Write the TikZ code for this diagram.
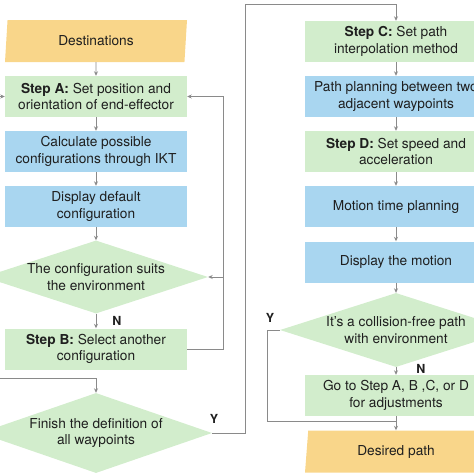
\documentclass[tikz,border=0pt]{standalone}
\usepackage{fontspec}
\setmainfont{TeX Gyre Heros}
\usetikzlibrary{shapes.geometric,arrows.meta}
\definecolor{stepgreen}{HTML}{D2EDCC}
\definecolor{procblue}{HTML}{A9D6F0}
\definecolor{ioyellow}{HTML}{F9D68A}
\definecolor{linegray}{HTML}{8A8A8A}
\begin{document}
\begin{tikzpicture}[x=1pt, y=-1pt,
    every node/.style={font=\fontsize{13.7}{16.7}\selectfont, text=black!88, align=center},
    stepbox/.style={rectangle, fill=stepgreen, minimum width=182, minimum height=41, inner sep=0},
    procbox/.style={stepbox, fill=procblue},
    iobox/.style={trapezium, trapezium left angle=76, trapezium right angle=104, trapezium stretches body,
        fill=ioyellow, minimum width=182, minimum height=42, inner sep=0},
    decide/.style={diamond, aspect=3.2, fill=stepgreen, inner xsep=-6pt, inner ysep=-2pt,
        minimum width=228, minimum height=76},
    flow/.style={draw=linegray, line width=0.8pt, -{Stealth[length=4.5pt,width=4pt]}},
    link/.style={draw=linegray, line width=0.8pt},
    yn/.style={font=\bfseries\fontsize{12.5}{14}\selectfont}]
    \useasboundingbox (0,0) rectangle (474,474);
    \clip (0,0) rectangle (474,474);

    % left column
    \node[iobox] (dest) at (96,41) {Destinations};
    \node[stepbox] (stepA) at (96,96.5) {\textbf{Step A:} Set position and\\orientation of end-effector};
    \node[procbox] (calc) at (96,151.5) {Calculate possible\\configurations through IKT};
    \node[procbox] (dispdef) at (96,206.5) {Display default\\configuration};
    \node[decide, minimum width=224, minimum height=73] (suit) at (96,277) {The configuration suits\\the environment};
    \node[stepbox] (stepB) at (96,349) {\textbf{Step B:} Select another\\configuration};
    \node[decide, minimum width=232, minimum height=80] (finish) at (96,433) {Finish the definition of\\all waypoints};

    % right column
    \node[stepbox] (stepC) at (396,41.5) {\textbf{Step C:} Set path\\interpolation method};
    \node[procbox] (pathplan) at (396,96.5) {Path planning between two\\adjacent waypoints};
    \node[stepbox] (stepD) at (396,151.5) {\textbf{Step D:} Set speed and\\acceleration};
    \node[procbox] (motion) at (396,206.5) {Motion time planning};
    \node[procbox] (dispmot) at (396,262) {Display the motion};
    \node[decide, minimum width=232, minimum height=74] (free) at (396,330) {It's a collision-free path\\with environment};
    \node[stepbox] (goto) at (396,395.5) {Go to Step A, B ,C, or D\\for adjustments};
    \node[iobox] (desired) at (396,451.5) {Desired path};

    % labels
    \node[yn] (suitN) at (117,321) {N};
    \node[yn] (finishY) at (214,419) {Y};
    \node[yn] (freeY) at (270,318) {Y};
    \node[yn] (freeN) at (421,369) {N};

    % loose ends
    \coordinate (inA) at (0,96.5);
    \coordinate (inB) at (0,378);
    \coordinate (loopA) at (223,96.5);
    \coordinate (upC) at (245,4);
    \coordinate (backY) at (267,421);

    % connectors
    \draw[flow] (dest) -- (stepA);
    \draw[flow] (stepA) -- (calc);
    \draw[flow] (calc) -- (dispdef);
    \draw[flow] (dispdef) -- (suit);
    \draw[flow] (suit) -- (stepB);
    \draw[flow] (stepB.east) -| (loopA) -- (stepA.east);
    \draw[flow] (loopA |- suit.east) -- (suit.east);
    \draw[flow] (inA) -- (stepA.west);
    \draw[flow] (inB) -| (finish.north);
    \draw[flow] (finish.east) -| (upC) -| (stepC.north);
    \draw[flow] (stepC) -- (pathplan);
    \draw[flow] (pathplan) -- (stepD);
    \draw[flow] (stepD) -- (motion);
    \draw[flow] (motion) -- (dispmot);
    \draw[flow] (dispmot) -- (free);
    \draw[flow] (free) -- (goto);
    \draw[link] (free.west) -| (backY) -- (goto.south |- backY);
    \draw[flow] (goto) -- (desired);
\end{tikzpicture}
\end{document}
